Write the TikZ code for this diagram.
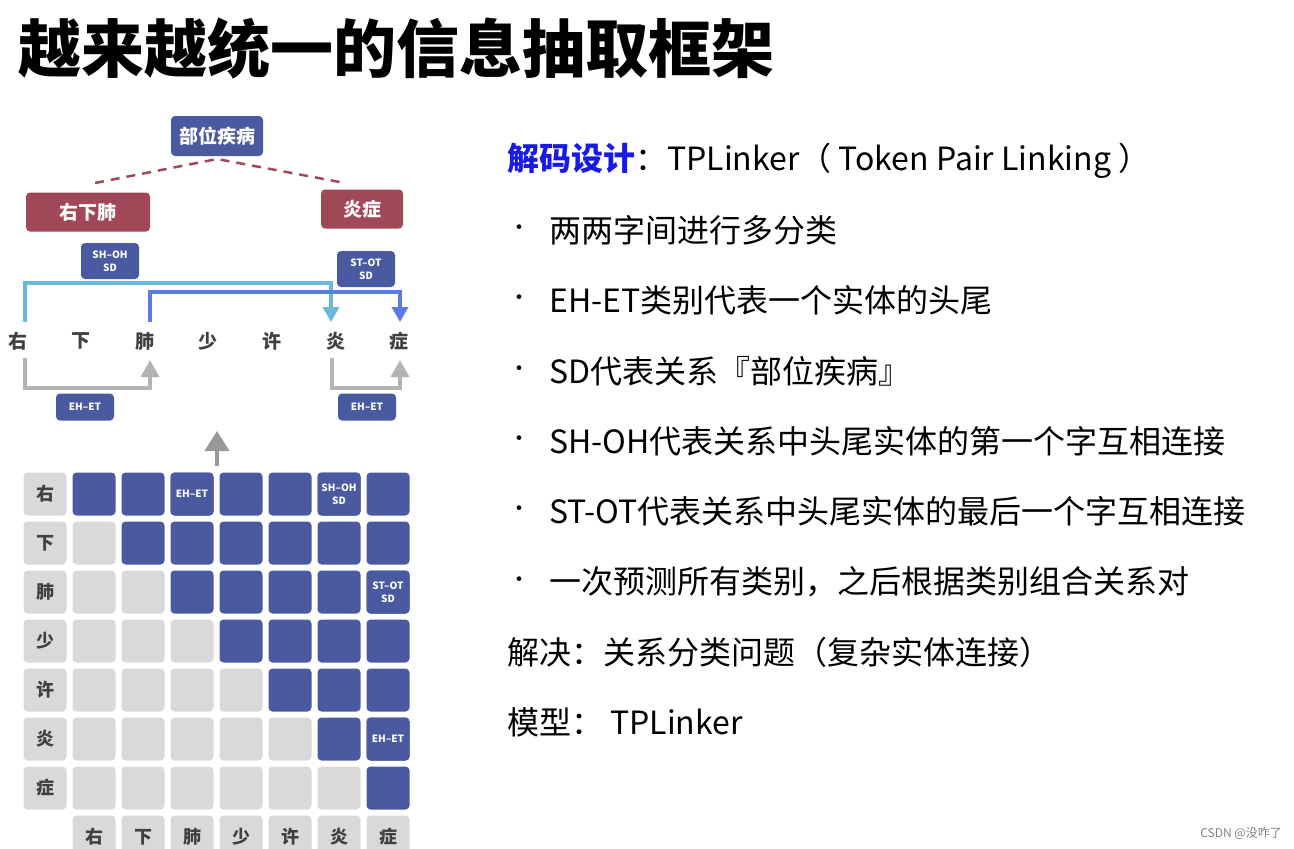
\documentclass[tikz,border=0pt]{standalone}
\usepackage{fontspec}
\setmainfont{Noto Sans CJK SC}
\usetikzlibrary{arrows.meta}
\definecolor{nblue}{HTML}{4A5AA0}
\definecolor{nred}{HTML}{A04857}
\definecolor{lgray}{HTML}{D9D9D9}
\definecolor{agray}{HTML}{B3B3B3}
\definecolor{lblue}{HTML}{6BB8D8}
\definecolor{mblue}{HTML}{5B7BE5}
\tikzset{
 cell/.style={fill=#1,rounded corners=4pt,minimum width=43pt,minimum height=43pt,inner sep=0pt,font=\fontsize{10}{13}\selectfont\bfseries,text=white,align=center},
 lab/.style={font=\fontsize{19}{20}\selectfont\bfseries,text=black!75},
 tag/.style={fill=nblue,rounded corners=4pt,text=white,font=\fontsize{10}{13}\selectfont\bfseries,align=center,inner sep=0pt,minimum width=58pt},
 ent/.style={fill=nred,rounded corners=4pt,text=white,font=\fontsize{19}{20}\selectfont\bfseries,inner sep=0pt,minimum height=39pt},
 line/.style={font=\fontsize{32}{36}\selectfont,anchor=west,inner sep=0pt},
}
\begin{document}
\begin{tikzpicture}[x=1pt,y=-1pt]
\useasboundingbox (0,0) rectangle (1294,849);
\node[anchor=west,inner sep=0pt,font=\fontsize{63}{66}\selectfont\bfseries] (title) at (18,48) {越来越统一的信息抽取框架};
% top diagram
\node[fill=nblue,rounded corners=4pt,text=white,font=\fontsize{19}{20}\selectfont\bfseries,minimum width=92pt,minimum height=40pt,inner sep=0pt] (sd) at (217,136) {部位疾病};
\node[ent,minimum width=124pt] (e1) at (88,212) {右下肺};
\node[ent,minimum width=82pt] (e2) at (362,209) {炎症};
\coordinate (d1) at (95,183); \coordinate (d2) at (217,159); \coordinate (d3) at (345,183);
\draw[nred,line width=2.5pt,dash pattern=on 9pt off 7pt] (d1)--(d2)--(d3);
\node[tag,minimum height=36pt] (t1) at (110,261) {SH–OH\\SD};
\node[tag,minimum height=36pt] (t2) at (366,269) {ST–OT\\SD};
\foreach \c/\x/\n in {右/18/c1,下/81/c2,肺/145/c3,少/208/c4,许/272/c5,炎/336/c6,症/399/c7}
  \node[lab] (\n) at (\x,341) {\c};
\coordinate (a1) at (25,322); \coordinate (a2) at (331,322);
\draw[lblue,line width=3.5pt,-{Triangle[width=16pt,length=15pt]}] (a1) |- (331,283) -- (a2);
\coordinate (b1) at (150,322); \coordinate (b2) at (400,322);
\draw[mblue,line width=3.5pt,-{Triangle[width=16pt,length=15pt]}] (b1) |- (400,292) -- (b2);
\coordinate (g1) at (25,358); \coordinate (g2) at (150,360);
\draw[agray,line width=3.5pt,-{Triangle[width=18pt,length=17pt]}] (g1) |- (150,388) -- (g2);
\coordinate (g3) at (332,358); \coordinate (g4) at (400,360);
\draw[agray,line width=3.5pt,-{Triangle[width=18pt,length=17pt]}] (g3) |- (400,388) -- (g4);
\node[tag,minimum height=27pt] (t3) at (85,407) {EH–ET};
\node[tag,minimum height=27pt] (t4) at (367,407) {EH–ET};
\coordinate (u1) at (217,466); \coordinate (u2) at (217,431);
\draw[gray!80,line width=4pt,-{Triangle[width=24pt,length=20pt]}] (u1) -- (u2);
% grid
\foreach \c [count=\i] in {右,下,肺,少,许,炎,症}{
  \node[cell=lgray,text=black!75,font=\fontsize{18}{18}\selectfont\bfseries] (r\i) at (45,445+49*\i) {\c};
  \node[cell=lgray,text=black!75,font=\fontsize{18}{18}\selectfont\bfseries] (k\i) at (45+49*\i,837) {\c};
  \foreach \j in {1,...,7}{
    \ifnum\j<\i
      \node[cell=lgray] (m\i\j) at (45+49*\j,445+49*\i) {};
    \else
      \node[cell=nblue] (m\i\j) at (45+49*\j,445+49*\i) {};
    \fi
  }
}
\node[cell=nblue] at (m13) {EH–ET};
\node[cell=nblue] at (m16) {SH–OH\\SD};
\node[cell=nblue] at (m37) {ST–OT\\SD};
\node[cell=nblue] at (m67) {EH–ET};
% right text
\node[line] (h) at (507,161) {\textcolor[HTML]{1A1AE6}{\bfseries 解码设计}：TPLinker（ Token Pair Linking ）};
\foreach \t [count=\i] in {两两字间进行多分类,EH-ET类别代表一个实体的头尾,SD代表关系『部位疾病』,SH-OH代表关系中头尾实体的第一个字互相连接,ST-OT代表关系中头尾实体的最后一个字互相连接,一次预测所有类别，之后根据类别组合关系对}{
  \node[line] (p\i) at (549,160+70.3*\i) {\t};
  \node[line,font=\fontsize{22}{24}\selectfont] at (508,160+70.3*\i) {•};
}
\node[line] (s1) at (507,652) {解决：关系分类问题（复杂实体连接）};
\node[line] (s2) at (507,722) {模型： TPLinker};
\node[anchor=east,inner sep=0pt,text=gray,font=\fontsize{12}{12}\selectfont] (w) at (1282,833) {CSDN @没咋了};
\end{tikzpicture}
\end{document}
